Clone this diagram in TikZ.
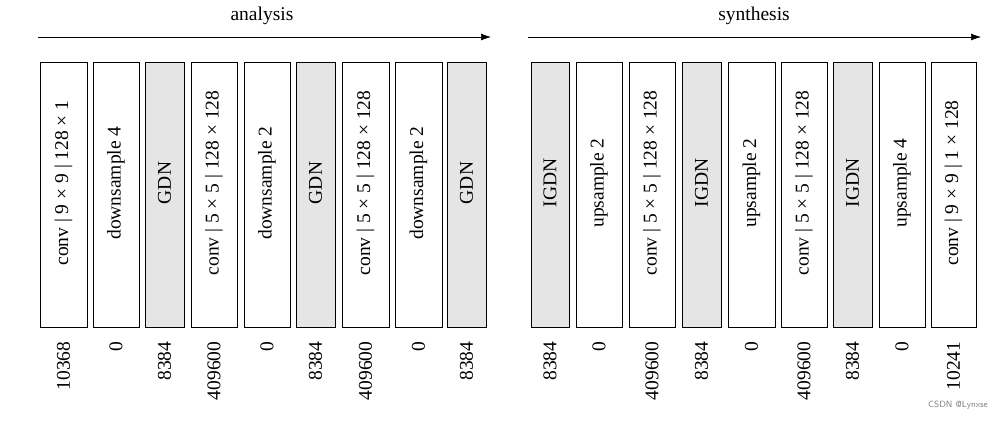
\documentclass[tikz,border=0pt]{standalone}
\usepackage{fontspec}
\setmainfont{Liberation Serif}
\usetikzlibrary{arrows.meta}
\begin{document}
\begin{tikzpicture}[x=1pt,y=-1pt,
  wt/.style={draw,semithick,fill=white},
  gr/.style={draw,semithick,fill=black!10},
  lab/.style={font=\fontsize{19.5}{22}\selectfont},
  num/.style={font=\fontsize{19.5}{22}\selectfont,rotate=90,anchor=east},
  ar/.style={semithick,-{Latex[length=10pt,width=7pt]}}]
\useasboundingbox (0,0) rectangle (1004,421);
\newcommand{\mybox}[6]{%
  \draw[#4] (#2,62) rectangle (#3,327);
  \node[lab,rotate=90] (#1) at ({(#2+#3)/2},183) {#5};
  \node[num] (#1n) at ({(#2+#3)/2},338) {#6};}
\mybox{a1}{40}{87}{wt}{conv | 9 × 9 | 128 × 1}{10368}
\mybox{a2}{93}{139}{wt}{downsample 4}{0}
\mybox{a3}{145}{184}{gr}{GDN}{8384}
\mybox{a4}{191}{237}{wt}{conv | 5 × 5 | 128 × 128}{409600}
\mybox{a5}{244}{290}{wt}{downsample 2}{0}
\mybox{a6}{296}{335}{gr}{GDN}{8384}
\mybox{a7}{342}{389}{wt}{conv | 5 × 5 | 128 × 128}{409600}
\mybox{a8}{395}{442}{wt}{downsample 2}{0}
\mybox{a9}{447}{486}{gr}{GDN}{8384}
\mybox{s1}{531}{569}{gr}{IGDN}{8384}
\mybox{s2}{576}{622}{wt}{upsample 2}{0}
\mybox{s3}{629}{675}{wt}{conv | 5 × 5 | 128 × 128}{409600}
\mybox{s4}{682}{721}{gr}{IGDN}{8384}
\mybox{s5}{728}{775}{wt}{upsample 2}{0}
\mybox{s6}{781}{827}{wt}{conv | 5 × 5 | 128 × 128}{409600}
\mybox{s7}{833}{872}{gr}{IGDN}{8384}
\mybox{s8}{879}{925}{wt}{upsample 4}{0}
\mybox{s9}{931}{976}{wt}{conv | 9 × 9 | 1 × 128}{10241}
\coordinate (aS) at (38,37); \coordinate (aE) at (491,37);
\coordinate (sS) at (528,37); \coordinate (sE) at (981,37);
\draw[ar] (aS) -- (aE);
\draw[ar] (sS) -- (sE);
\node[lab] (at) at (262,16) {analysis};
\node[lab] (st) at (754,16) {synthesis};
\node[font=\fontsize{9}{10}\selectfont\sffamily,text=black!50] (wm) at (958,405) {CSDN @Lynxse};
\end{tikzpicture}
\end{document}
